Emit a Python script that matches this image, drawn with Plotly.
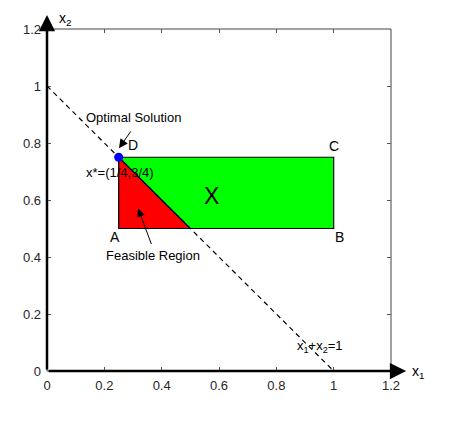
import plotly.graph_objects as go

# feasible set pieces
rect_x = [0.25, 1.0, 1.0, 0.25, 0.25]
rect_y = [0.5, 0.5, 0.75, 0.75, 0.5]
tri_x = [0.25, 0.5, 0.25, 0.25]
tri_y = [0.5, 0.5, 0.75, 0.5]
line_x = [0, 1]
line_y = [1, 0]
opt_x = [0.25]
opt_y = [0.75]

tick_vals = [0, 0.2, 0.4, 0.6, 0.8, 1, 1.2]
tick_text = ["0", "0.2", "0.4", "0.6", "0.8", "1", "1.2"]

# corner labels
corner_names = ["A", "B", "C", "D"]
corner_x = [0.237, 1.02, 1.0, 0.30]
corner_y = [0.47, 0.47, 0.79, 0.793]

FONT = "Liberation Sans, Arial, sans-serif"
TXT = "#262626"

fig = go.Figure()

fig.add_trace(go.Scatter(x=rect_x, y=rect_y, fill="toself", fillcolor="#00ff00",
                         mode="lines", line=dict(color="black", width=1.2),
                         hoverinfo="skip"))
fig.add_trace(go.Scatter(x=tri_x, y=tri_y, fill="toself", fillcolor="#ff0000",
                         mode="lines", line=dict(color="black", width=1.2),
                         hoverinfo="skip"))
fig.add_trace(go.Scatter(x=line_x, y=line_y, mode="lines",
                         line=dict(color="black", width=1.2, dash="5px,4px"),
                         hoverinfo="skip"))
fig.add_trace(go.Scatter(x=opt_x, y=opt_y, mode="markers",
                         marker=dict(color="#0000ff", size=9), hoverinfo="skip"))

ann = []
for n, cx, cy in zip(corner_names, corner_x, corner_y):
    ann.append(dict(x=cx, y=cy, text=n, showarrow=False,
                    font=dict(size=14, color="black", family=FONT)))

ann.append(dict(x=0.575, y=0.614, text="X", showarrow=False,
                font=dict(size=23, color="black", family=FONT)))
ann.append(dict(x=0.255, y=0.695, text="x*=(1/4,3/4)", showarrow=False,
                font=dict(size=13, color="black", family=FONT)))
ann.append(dict(x=0.30, y=0.89, text="Optimal Solution", showarrow=False,
                font=dict(size=13, color="black", family=FONT)))
ann.append(dict(x=0.251, y=0.782, ax=0.296, ay=0.846, axref="x", ayref="y",
                text="", showarrow=True, arrowhead=2, arrowsize=1.8,
                arrowwidth=1, arrowcolor="black"))
ann.append(dict(x=0.37, y=0.407, text="Feasible Region", showarrow=False,
                font=dict(size=13, color="black", family=FONT)))
ann.append(dict(x=0.318, y=0.57, ax=0.366, ay=0.44, axref="x", ayref="y",
                text="", showarrow=True, arrowhead=2, arrowsize=1.6,
                arrowwidth=1, arrowcolor="black"))
ann.append(dict(x=0.952, y=0.085, text="x<sub>1</sub>+x<sub>2</sub>=1",
                showarrow=False, font=dict(size=13, color="black", family=FONT)))

# axis arrows (paper coordinates)
ann.append(dict(xref="paper", yref="paper", x=0, y=1.041, ax=0, ay=356,
                text="", showarrow=True, arrowhead=2, arrowsize=1.3,
                arrowwidth=2.5, arrowcolor="black"))
ann.append(dict(xref="paper", yref="paper", x=1.044, y=0, ax=-359, ay=0,
                text="", showarrow=True, arrowhead=2, arrowsize=1.3,
                arrowwidth=2.5, arrowcolor="black"))
ann.append(dict(xref="paper", yref="paper", x=0.028, y=1.06,
                text="x<sub>2</sub>", showarrow=False, xanchor="left",
                font=dict(size=14, color="black", family=FONT)))
ann.append(dict(xref="paper", yref="paper", x=1.055, y=-0.035,
                text="x<sub>1</sub>", showarrow=False, xanchor="left",
                font=dict(size=14, color="black", family=FONT)))

axis_style = dict(range=[0, 1.2], tickvals=tick_vals, ticktext=tick_text,
                  ticks="inside", ticklen=4, tickcolor="#555", tickwidth=1,
                  mirror="ticks", showline=False, showgrid=False, zeroline=False,
                  tickfont=dict(size=13, color=TXT, family=FONT),
                  ticklabelstandoff=5, fixedrange=True)

# the page body adds an 8px offset, so the margins are shifted to compensate
fig.update_layout(
    width=463, height=422,
    margin=dict(l=39, r=80, t=21, b=59),
    paper_bgcolor="white", plot_bgcolor="white",
    showlegend=False,
    xaxis=axis_style,
    yaxis=axis_style,
    annotations=ann,
    shapes=[dict(type="rect", xref="paper", yref="paper", x0=0, y0=0, x1=1, y1=1,
                 line=dict(color="#444", width=1), layer="below")],
)

fig.write_html("out.html")
